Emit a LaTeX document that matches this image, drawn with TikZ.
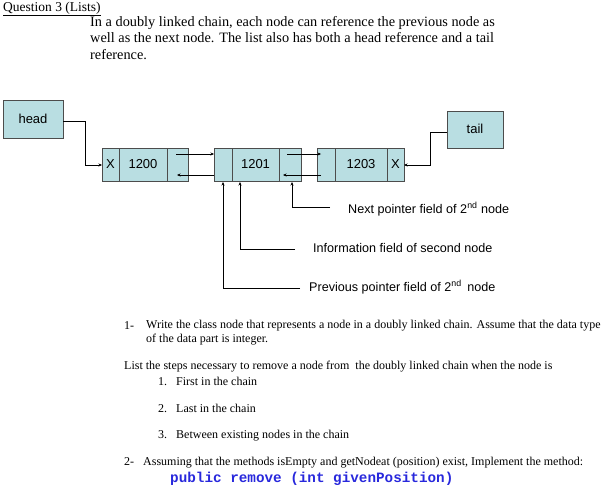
\documentclass[tikz,border=0pt]{standalone}
\usepackage{fontspec}
\setmainfont{Liberation Serif}
\newfontfamily\arial{Liberation Sans}
\newfontfamily\cour{Liberation Mono}
\usetikzlibrary{arrows.meta}
\definecolor{boxc}{RGB}{185,222,226}
\definecolor{codeblue}{RGB}{40,40,220}
\begin{document}
\begin{tikzpicture}[x=1pt,y=-1pt,
  fbox/.style={draw=black!70,fill=boxc,line width=0.5pt},
  lbl/.style={font=\arial\fontsize{13}{15}\selectfont,inner sep=0pt},
  flbl/.style={anchor=west,inner sep=0pt,font=\arial\fontsize{12.6}{15}\selectfont},
  arr/.style={-{Stealth[length=3.5pt,width=3pt]},line width=0.5pt},
  tx/.style={anchor=west,inner sep=0pt,font=\fontsize{12}{14}\selectfont}]
\useasboundingbox (0,0) rectangle (604,498);
% header text
\node[anchor=base west,inner sep=0pt,font=\fontsize{13.5}{15}\selectfont] (q) at (3,11) {\underline{Question 3 (Lists)}};
\node[anchor=north west,inner sep=0pt,align=left,font=\fontsize{14.3}{16.5}\selectfont] (p) at (90,16)
 {In a doubly linked chain, each node can reference the previous node as\\
  well as the next node. The list also has both a head reference and a tail\\
  reference.};
% head / tail
\draw[fbox] (3,100) rectangle (63,138);
\node[lbl] (head) at (33,119) {head};
\coordinate (hr) at (63,121);
\draw[fbox] (447,111) rectangle (503,148);
\node[lbl] (tail) at (475,129) {tail};
\coordinate (tl) at (447,132);
% nodes
\foreach \a/\b/\c/\d in {102/119/167/188, 214/232/279/301, 317/335/387/404}{
  \draw[fbox] (\a,148) rectangle (\d,181);
  \draw[black!70] (\b,148) -- (\b,181) (\c,148) -- (\c,181);
}
\node[lbl] (x1) at (110.5,164.5) {X};
\node[lbl] (n1) at (143,164.5) {1200};
\node[lbl] (n2) at (255.5,164.5) {1201};
\node[lbl] (n3) at (361,164.5) {1203};
\node[lbl] (x3) at (395.5,164.5) {X};
\coordinate (n1l) at (102,165);
\coordinate (n3r) at (404,165);
\draw[arr] (hr) -- (85,121) -- (85,165) -- (n1l);
\draw[arr] (tl) -- (430,132) -- (430,165) -- (n3r);
\coordinate (a1) at (176,154); \coordinate (a2) at (214,154);
\coordinate (a3) at (287,154); \coordinate (a4) at (321,154);
\coordinate (b1) at (214,175); \coordinate (b2) at (177,175);
\coordinate (b3) at (321,175); \coordinate (b4) at (283,175);
\draw[arr] (a1) -- (a2);
\draw[arr] (a3) -- (a4);
\draw[arr] (b1) -- (b2);
\draw[arr] (b3) -- (b4);
% field labels
\node[flbl] (l1) at (348,209) {Next pointer field of 2\textsuperscript{nd} node};
\node[flbl] (l2) at (313,248) {Information field of second node};
\node[flbl] (l3) at (309,287) {Previous pointer field of 2\textsuperscript{nd}\, node};
\draw[arr] (330,207) -- (292,207) -- (292,182);
\draw[arr] (295,249) -- (240,249) -- (240,182);
\draw[arr] (300,288) -- (223,288) -- (223,182);
% bottom text
\node[tx] (t1) at (124,326) {1-};
\node[tx] (t1b) at (146,326) {Write the class node that represents a node in a doubly linked chain. Assume that the data type};
\node[tx] (t1c) at (146,340) {of the data part is integer.};
\node[tx] (t2) at (124,367) {List the steps necessary to remove a node from\ \ the doubly linked chain when the node is};
\node[tx] (s1) at (158,381) {1.\ \ \ First in the chain};
\node[tx] (s2) at (158,408) {2.\ \ \ Last in the chain};
\node[tx] (s3) at (158,436) {3.\ \ \ Between existing nodes in the chain};
\node[tx] (t3) at (124,463) {2-\ \ \ Assuming that the methods isEmpty and getNodeat (position) exist, Implement the method:};
\node[tx,font=\cour\bfseries\fontsize{14.3}{16}\selectfont,text=codeblue] (code) at (170,479) {public remove (int givenPosition)};
\end{tikzpicture}
\end{document}
